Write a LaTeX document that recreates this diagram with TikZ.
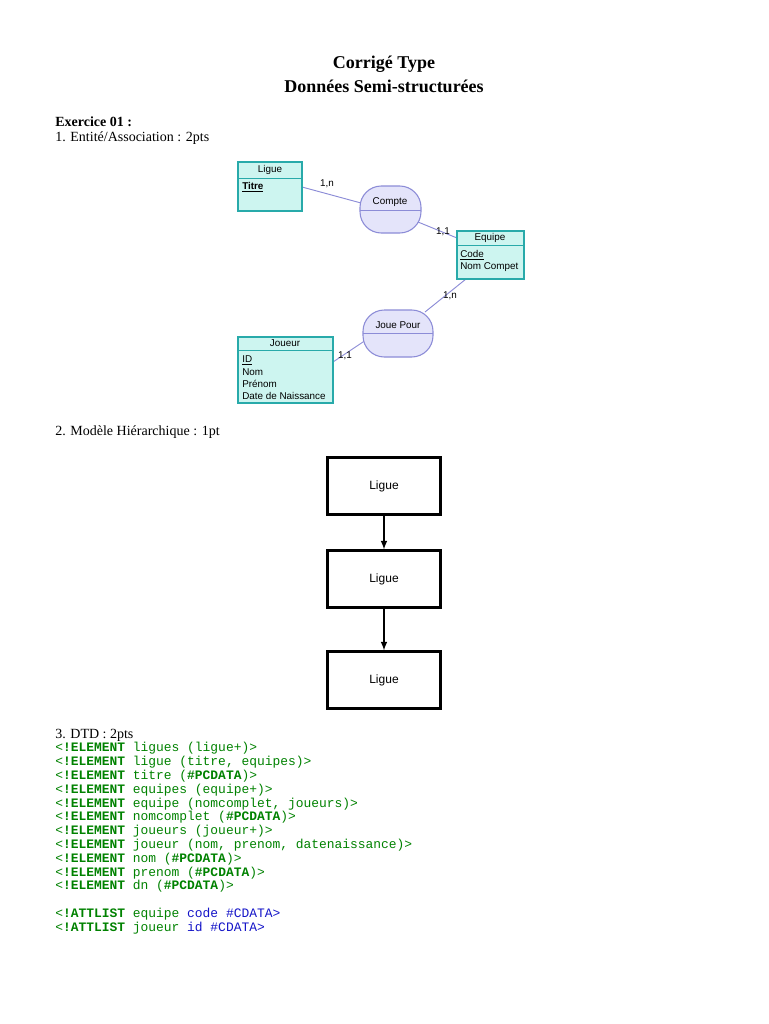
\documentclass[tikz,border=0pt]{standalone}
\usepackage{fontspec}
\setmainfont{Liberation Serif}
\newfontfamily\dsans{Liberation Sans}
\newfontfamily\dmono{Liberation Mono}
\begin{document}
\definecolor{entf}{RGB}{205,245,240}
\definecolor{entd}{RGB}{40,170,170}
\definecolor{assf}{RGB}{228,228,250}
\definecolor{assd}{RGB}{140,140,215}
\definecolor{kw}{RGB}{0,130,0}
\definecolor{bl}{RGB}{20,20,200}
\begin{tikzpicture}[x=0.75pt,y=-0.75pt,
  ent/.style={draw=entd,fill=entf,line width=0.8pt},
  ass/.style={draw=assd,fill=assf,rounded corners=16pt,line width=0.8pt},
  lnk/.style={draw=assd,line width=0.7pt},
  sm/.style={font=\dsans\fontsize{7.4}{8}\selectfont,inner sep=0pt},
  card/.style={font=\dsans\fontsize{7.4}{8}\selectfont,inner sep=0pt},
  hb/.style={draw,line width=1.6pt,minimum width=84.75pt,minimum height=42.75pt,font=\dsans\fontsize{9}{10}\selectfont},
  txt/.style={anchor=west,inner sep=0pt,font=\fontsize{10.5}{12}\selectfont},
  dtd/.style={anchor=west,inner sep=0pt,text=kw,font=\dmono\fontsize{9.7}{10}\selectfont}]
\useasboundingbox (0,0) rectangle (768,1024);
\fill[white] (0,0) rectangle (768,1024);
% titles
\node[font=\bfseries\fontsize{13.5}{15}\selectfont] (t1) at (384,64) {Corrigé Type};
\node[font=\bfseries\fontsize{13.5}{15}\selectfont] (t2) at (384,86) {Données Semi-structurées};
\node[txt,font=\bfseries\fontsize{10.5}{12}\selectfont] (ex) at (55,122) {Exercice 01 :};
\node[txt] (q1) at (55,138) {1. Entité/Association : 2pts};
\node[txt] (q2) at (55,432) {2. Modèle Hiérarchique : 1pt};
\node[txt] (q3) at (55,735) {3. DTD : 2pts};
% links
\coordinate (l1) at (302,187); \coordinate (c1) at (361,203);
\coordinate (c2) at (418,222); \coordinate (e1) at (457,238);
\coordinate (e2) at (466,279); \coordinate (j1) at (425,312);
\coordinate (j2) at (366,340); \coordinate (p1) at (333,362);
\draw[lnk] (l1) -- (c1); \draw[lnk] (c2) -- (e1);
\draw[lnk] (e2) -- (j1); \draw[lnk] (j2) -- (p1);
% entities
\draw[ent] (238,162) rectangle (302,211); \draw[entd] (238,178) -- (302,178);
\node[sm] (lg) at (270,170) {Ligue};
\node[sm,anchor=west] (lgt) at (242,187) {\bfseries\underline{Titre}};
\draw[ent] (457,231) rectangle (524,279); \draw[entd] (457,245) -- (524,245);
\node[sm] (eq) at (490,238) {Equipe};
\node[sm,anchor=west] (eq1) at (460,255) {\underline{Code}};
\node[sm,anchor=west] (eq2) at (460,267) {Nom Compet};
\draw[ent] (238,337) rectangle (333,403); \draw[entd] (238,350) -- (333,350);
\node[sm] (jo) at (285,343) {Joueur};
\node[sm,anchor=west] (jo1) at (242,360) {\underline{ID}};
\node[sm,anchor=west] (jo2) at (242,372) {Nom};
\node[sm,anchor=west] (jo3) at (242,384) {Prénom};
\node[sm,anchor=west] (jo4) at (242,396) {Date de Naissance};
% associations
\draw[ass] (360,186) rectangle (421,233); \draw[assd] (360,210) -- (421,210);
\node[sm] (co) at (390,202) {Compte};
\draw[ass] (363,310) rectangle (433,357); \draw[assd] (363,333) -- (433,333);
\node[sm] (jp) at (398,325) {Joue Pour};
% cardinalities
\node[card] (k1) at (327,184) {1,n};
\node[card] (k2) at (443,232) {1,1};
\node[card] (k3) at (450,296) {1,n};
\node[card] (k4) at (345,356) {1,1};
% hierarchy
\node[hb] (h1) at (384,486) {Ligue};
\node[hb] (h2) at (384,579) {Ligue};
\node[hb] (h3) at (384,680) {Ligue};
\draw[line width=1.2pt,-latex] (h1) -- (h2);
\draw[line width=1.2pt,-latex] (h2) -- (h3);
% DTD
\node[dtd] (d1) at (55,748.5) {<\textbf{!ELEMENT} ligues (ligue+)>};
\node[dtd] (d2) at (55,762.3) {<\textbf{!ELEMENT} ligue (titre, equipes)>};
\node[dtd] (d3) at (55,776.1) {<\textbf{!ELEMENT} titre (\textbf{\#PCDATA})>};
\node[dtd] (d4) at (55,789.9) {<\textbf{!ELEMENT} equipes (equipe+)>};
\node[dtd] (d5) at (55,803.7) {<\textbf{!ELEMENT} equipe (nomcomplet, joueurs)>};
\node[dtd] (d6) at (55,817.5) {<\textbf{!ELEMENT} nomcomplet (\textbf{\#PCDATA})>};
\node[dtd] (d7) at (55,831.3) {<\textbf{!ELEMENT} joueurs (joueur+)>};
\node[dtd] (d8) at (55,845.1) {<\textbf{!ELEMENT} joueur (nom, prenom, datenaissance)>};
\node[dtd] (d9) at (55,858.9) {<\textbf{!ELEMENT} nom (\textbf{\#PCDATA})>};
\node[dtd] (d10) at (55,872.7) {<\textbf{!ELEMENT} prenom (\textbf{\#PCDATA})>};
\node[dtd] (d11) at (55,886.5) {<\textbf{!ELEMENT} dn (\textbf{\#PCDATA})>};
\node[dtd] (a1) at (55,914) {<\textbf{!ATTLIST} equipe \textcolor{bl}{code \#CDATA>}};
\node[dtd] (a2) at (55,928) {<\textbf{!ATTLIST} joueur \textcolor{bl}{id \#CDATA>}};
\end{tikzpicture}
\end{document}
